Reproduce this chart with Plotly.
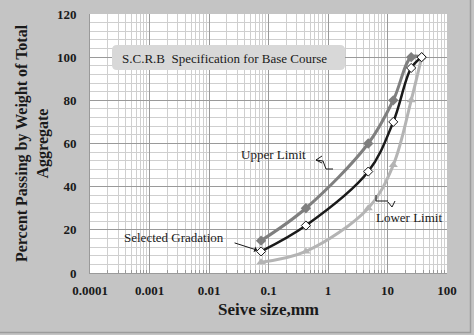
import math
import plotly.graph_objects as go

# ---- data ----
sieve_mm = [0.075, 0.425, 4.75, 12.5, 25, 37.5]
upper_limit = [15, 30, 60, 80, 100, 100]
selected = [10, 22, 47, 70, 95, 100]
lower_limit = [5, 10, 30, 50, 80, 100]

x_tick_vals = [0.0001, 0.001, 0.01, 0.1, 1, 10, 100]
x_tick_text = ["0.0001", "0.001", "0.01", "0.1", "1", "10", "100"]
y_tick_vals = [0, 20, 40, 60, 80, 100, 120]

W, H = 474, 335
L, R, T, B = 90, 27, 14, 62
PW, PH = W - L - R, H - T - B


def px(x):
    return (x - L) / PW


def py(y):
    return (H - B - y) / PH


FONT = "Liberation Serif, Times New Roman, serif"
INK = "#1a1a1a"

fig = go.Figure()
fig.add_trace(go.Scatter(
    x=sieve_mm, y=lower_limit, mode="lines+markers", name="Lower Limit",
    line=dict(color="#b4b4b4", width=3, shape="spline"),
    marker=dict(symbol="triangle-up", size=8, color="#b4b4b4")))
fig.add_trace(go.Scatter(
    x=sieve_mm, y=upper_limit, mode="lines+markers", name="Upper Limit",
    line=dict(color="#7f7f7f", width=3, shape="spline"),
    marker=dict(symbol="diamond", size=8, color="#7f7f7f")))
fig.add_trace(go.Scatter(
    x=sieve_mm, y=selected, mode="lines+markers", name="Selected Gradation",
    line=dict(color=INK, width=2.5, shape="spline"),
    marker=dict(symbol="diamond", size=7, color="white",
                line=dict(color=INK, width=1))))

minor_x = [m * 10 ** e for e in range(-4, 2) for m in range(2, 10)]

fig.update_xaxes(
    type="log", range=[-4, 2], automargin=False,
    tickvals=x_tick_vals, ticktext=x_tick_text,
    tickfont=dict(family=FONT, size=13, color=INK, weight="bold"),
    ticklabelstandoff=5,
    showgrid=True, gridcolor="#9a9a9a", gridwidth=1,
    minor=dict(tickvals=minor_x, showgrid=True, gridcolor="#cfcfcf",
               ticks="inside", ticklen=3, tickcolor="#9a9a9a"),
    showline=True, linecolor="#9a9a9a", linewidth=1, mirror=False,
    zeroline=False,
    title=dict(text="<b>Seive size,mm</b>", font=dict(family=FONT, size=17, color=INK),
               standoff=6),
)
fig.update_yaxes(
    range=[0, 120], tickvals=y_tick_vals, automargin=False,
    tickfont=dict(family=FONT, size=13, color=INK, weight="bold"),
    showgrid=True, gridcolor="#9a9a9a", gridwidth=1,
    minor=dict(dtick=4, showgrid=True, gridcolor="#cfcfcf"),
    showline=True, linecolor="#9a9a9a", linewidth=1,
    zeroline=False, ticks="", ticklabelstandoff=10,
    title=dict(text="<b>Percent Passing by Weight of Total<br>Aggregate</b>",
               font=dict(family=FONT, size=16, color=INK), standoff=4),
)

shapes = []
# rounded label box
x0, x1, y0, y1, r = px(112), px(345), py(70), py(45), 5
rx, ry = r / PW, r / PH
shapes.append(dict(
    type="path", xref="paper", yref="paper",
    path=(f"M {x0+rx},{y0} L {x1-rx},{y0} Q {x1},{y0} {x1},{y0+ry} "
          f"L {x1},{y1-ry} Q {x1},{y1} {x1-rx},{y1} L {x0+rx},{y1} "
          f"Q {x0},{y1} {x0},{y1-ry} L {x0},{y0+ry} Q {x0},{y0} {x0+rx},{y0} Z"),
    fillcolor="#d8d8d8", line=dict(width=0), layer="above"))
# upper limit glyph
shapes.append(dict(
    type="path", xref="paper", yref="paper",
    path=(f"M {px(322)},{py(156)} L {px(316)},{py(160)} L {px(322)},{py(163)} "
          f"M {px(316)},{py(160)} L {px(323)},{py(161)} L {px(326)},{py(169)} L {px(333)},{py(169)}"),
    line=dict(color=INK, width=1)))
# lower limit glyph
shapes.append(dict(
    type="path", xref="paper", yref="paper",
    path=(f"M {px(376)},{py(195)} L {px(376)},{py(201)} L {px(388)},{py(201)} "
          f"M {px(388)},{py(202)} L {px(392)},{py(207)} L {px(395)},{py(201)}"),
    line=dict(color=INK, width=1)))
# outer frame
shapes.append(dict(
    type="rect", xref="paper", yref="paper",
    x0=px(-2), x1=px(470.5), y0=py(332.5), y1=py(-2),
    line=dict(color="#9c9c9c", width=1.5), fillcolor="rgba(0,0,0,0)"))

LBL = dict(family=FONT, size=13, color=INK)
TXT = dict(xref="paper", yref="paper", showarrow=False, font=LBL,
           xanchor="center", yanchor="middle")
annotations = [
    dict(text="S.C.R.B  Specification for Base Course", x=px(224), y=py(58), **TXT),
    dict(text="Upper Limit", x=px(273), y=py(154), **TXT),
    dict(text="Lower Limit", x=px(409), y=py(217), **TXT),
    dict(text="Selected Gradation", x=px(174), y=py(237), **TXT),
    dict(text="", x=math.log10(sieve_mm[0]), y=selected[0], xref="x", yref="y",
         showarrow=True, arrowhead=1, arrowsize=1, arrowwidth=1, arrowcolor=INK,
         ax=-28, ay=-9, standoff=4),
]

fig.update_layout(
    width=W, height=H,
    margin=dict(l=L, r=R, t=T, b=B),
    paper_bgcolor="#c4c4c4", plot_bgcolor="white",
    showlegend=False,
    font=dict(family=FONT),
    shapes=shapes, annotations=annotations,
)

fig.write_html("out.html")
